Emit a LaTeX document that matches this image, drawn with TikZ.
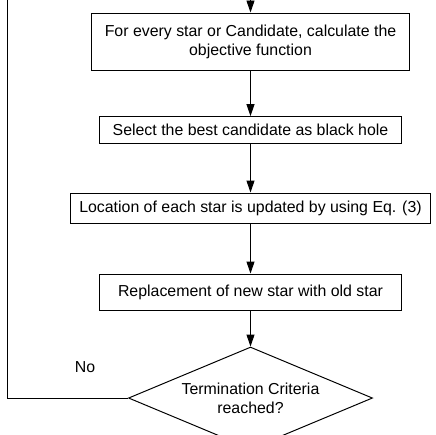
\documentclass[tikz,border=0pt]{standalone}
\usepackage{fontspec}
\setmainfont{Liberation Sans}
\usetikzlibrary{arrows.meta, positioning, shapes.geometric}

\begin{document}
\begin{tikzpicture}[
    x=0.025cm, y=-0.025cm,
    every node/.style={font=\fontsize{11.3}{13.4}\selectfont},
    stepbox/.style={
        rectangle, draw, line width=0.7pt,
        inner sep=0pt, align=center
    },
    decision/.style={
        diamond, draw, line width=0.7pt, shape aspect=2.4,
        inner sep=0pt, align=center,
        minimum width=6.1cm, minimum height=2.55cm
    },
    arr/.style={-{Triangle[length=0.3cm, width=0.2cm]}, line width=0.7pt},
    line/.style={line width=0.7pt},
]
\useasboundingbox (0,0) rectangle (435,435);
\clip (0,0) rectangle (435,435);

% ── Boxes ────────────────────────────
\node[stepbox, minimum width=7.925cm, minimum height=1.425cm] (eval) at (250.5,41.5)
    {For every star or Candidate, calculate the\\objective function};
\node[stepbox, minimum width=7.525cm, minimum height=0.675cm, below=1.14cm of eval] (best)
    {Select the best candidate as black hole};
\node[stepbox, minimum width=8.975cm, minimum height=0.75cm, below=1.21cm of best] (update)
    {Location of each star is updated by using Eq. (3)};
\node[stepbox, minimum width=7.525cm, minimum height=0.9cm, below=1.25cm of update] (replace)
    {Replacement of new star with old star};
\node[decision, below=0.9cm of replace] (term)
    {Termination Criteria\\reached?};

% ── Loop back ────────────────────────
\coordinate (loopc) at (7,-10);
\coordinate (topc) at (250.5,-10);
\node (no) at (85,367) {No};

% ── Arrows ───────────────────────────
\draw[arr] (eval) -- (best);
\draw[arr] (best) -- (update);
\draw[arr] (update) -- (replace);
\draw[arr] (replace) -- (term);
\draw[arr] (term.west) -| (loopc) -- (topc) -- (eval);

\end{tikzpicture}
\end{document}
